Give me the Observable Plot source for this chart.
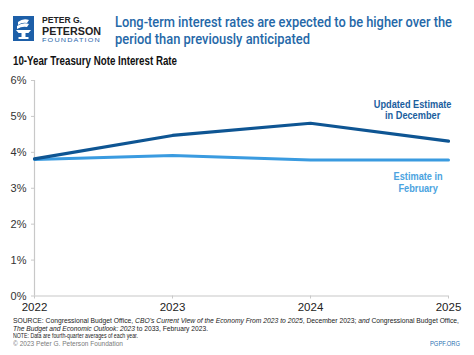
<!DOCTYPE html>
<html>
<head>
<meta charset="utf-8">
<script src="https://cdn.jsdelivr.net/npm/d3@7"></script>
<script src="https://cdn.jsdelivr.net/npm/@observablehq/plot@0.6"></script>
<style>
  html, body { margin: 0; padding: 0; background: #fff; }
  #wrap { position: relative; width: 474px; height: 355px; overflow: hidden; font-family: "Liberation Sans", Arial, sans-serif; }
  .abs { position: absolute; white-space: nowrap; line-height: normal; }
  .fit { transform-origin: 0 0; }
  #logo { left: 13px; top: 16px; width: 21px; height: 25px; background: #1d5fa8; }
  .lt { line-height: 1; }
  #lt1 { left: 42px; top: 15.6px; font-size: 8.4px; font-weight: bold; color: #222; }
  #lt2 { left: 42px; top: 24.8px; font-size: 11.6px; font-weight: bold; color: #222; }
  #lt3 { left: 42px; top: 36.8px; font-size: 6px; color: #1d5fa8; letter-spacing: 1px; }
  .title { left: 115px; font-family: Roboto, "Liberation Sans", sans-serif; font-weight: 500; font-size: 14.6px; line-height: 1; color: #2568a8; }
  #t1 { top: 14.6px; }
  #t2 { top: 31.8px; }
  #subtitle { left: 13px; top: 53.5px; font-size: 12.5px; font-weight: bold; color: #111; }
  #chart { left: 0; top: 68px; }
  .src { left: 13px; font-size: 8px; color: #222; }
  #s1 { top: 316px; }
  #s2 { top: 323.5px; }
  #s3 { top: 331px; }
  #copy { left: 13px; top: 338.5px; font-size: 8px; color: #7a7a7a; }
  #pgpf { left: 430px; top: 338.5px; font-size: 8px; color: #2a6fb2; }
</style>
</head>
<body>
<div id="wrap">
  <div id="logo" class="abs">
    <svg width="21" height="25" viewBox="0 0 21 25">
      <path d="M5 6 Q10 2 16 4 L14 7 Q9 6 5 9 Z" fill="#fff"/>
      <path d="M4 10 Q10 6 16 8 L14 11 Q9 10 4 13 Z" fill="#fff"/>
      <path d="M3 14 L18 14 L15.5 17 L5.5 17 Z" fill="#fff"/>
      <rect x="8.5" y="17" width="4" height="4.5" fill="#fff"/>
      <rect x="5.5" y="21" width="10" height="2" fill="#fff"/>
    </svg>
  </div>
  <div id="lt1" class="abs fit lt" data-w="40">PETER G.</div>
  <div id="lt2" class="abs fit lt" data-w="59">PETERSON</div>
  <div id="lt3" class="abs fit lt" data-w="59">FOUNDATION</div>
  <div id="t1" class="abs fit title" data-w="337">Long-term interest rates are expected to be higher over the</div>
  <div id="t2" class="abs fit title" data-w="195">period than previously anticipated</div>
  <div id="subtitle" class="abs fit" data-w="164">10-Year Treasury Note Interest Rate</div>
  <div id="chart" class="abs"></div>
  <div id="s1" class="abs fit src" data-w="446">SOURCE: Congressional Budget Office, <i>CBO's Current View of the Economy From 2023 to 2025</i>, December 2023; <i>and</i> Congressional Budget Office,</div>
  <div id="s2" class="abs fit src" data-w="195"><i>The Budget and Economic Outlook: 2023</i> to 2033, February 2023.</div>
  <div id="s3" class="abs fit src" data-w="125">NOTE: Data are fourth-quarter averages of each year.</div>
  <div id="copy" class="abs fit" data-w="110">© 2023 Peter G. Peterson Foundation</div>
  <div id="pgpf" class="abs fit" data-w="30">PGPF.ORG</div>
</div>
<script>
const years = [2022, 2023, 2024, 2025];
const december = [3.82, 4.47, 4.81, 4.31];
const february = [3.80, 3.91, 3.79, 3.79];
const yTicks = [0, 1, 2, 3, 4, 5, 6];

const decData = years.map((y, i) => ({year: y, rate: december[i]}));
const febData = years.map((y, i) => ({year: y, rate: february[i]}));

const darkBlue = "#0e5593";
const lightBlue = "#3a9be0";
const axisGray = "#c8c8c8";

const chart = Plot.plot({
  width: 474,
  height: 247.5,
  marginLeft: 34,
  marginRight: 26,
  marginTop: 12,
  marginBottom: 20,
  style: {fontFamily: "'Liberation Sans', Arial, sans-serif", fontSize: "11px", color: "#333", background: "#fff", overflow: "visible"},
  x: {domain: [2022, 2025], label: null},
  y: {domain: [0, 6], label: null},
  marks: [
    Plot.axisY({ticks: yTicks, tickFormat: d => d + "%", tickSize: 3, stroke: axisGray, fill: "#333", fontSize: 11, tickPadding: 5, label: null}),
    Plot.axisX({ticks: years, tickFormat: "d", tickSize: 3, stroke: axisGray, fill: "#222", fontSize: 11.5, tickPadding: 4, label: null}),
    Plot.ruleX([2022], {stroke: axisGray, strokeWidth: 1.2}),
    Plot.ruleY([0], {stroke: axisGray, strokeWidth: 1.2}),
    Plot.line(febData, {x: "year", y: "rate", stroke: lightBlue, strokeWidth: 3}),
    Plot.line(decData, {x: "year", y: "rate", stroke: darkBlue, strokeWidth: 3.2}),
    Plot.text(["Updated Estimate\nin December"], {x: 2024.74, y: 5.18, text: d => d, fill: "#1b5e9e", fontWeight: "bold", fontSize: 11.5, lineHeight: 1.0}),
    Plot.text(["Estimate in\nFebruary"], {x: 2024.78, y: 3.17, text: d => d, fill: "#4ba3e0", fontWeight: "bold", fontSize: 11.5, lineHeight: 1.0})
  ]
});
document.getElementById("chart").appendChild(chart);

// condense annotation labels (the original uses a condensed typeface)
chart.querySelectorAll('g[aria-label="text"] text').forEach(t => {
  const tr = t.getAttribute("transform") || "";
  t.setAttribute("transform", tr + " scale(0.8,1)");
});

// condense HTML texts to the widths they take in the original
document.querySelectorAll(".fit").forEach(el => {
  const w = el.getBoundingClientRect().width;
  const target = +el.dataset.w;
  if (w > 0 && target) el.style.transform = `scaleX(${target / w})`;
});
</script>
</body>
</html>
